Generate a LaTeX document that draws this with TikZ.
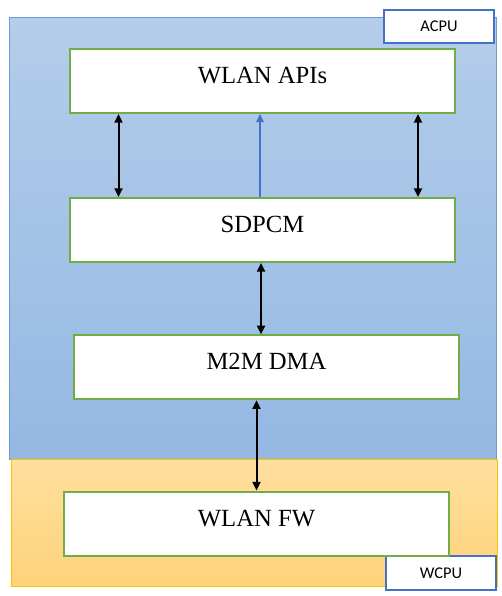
\documentclass[tikz,border=0pt]{standalone}
\usepackage{fontspec}
\setmainfont{Liberation Serif}
\newfontfamily\calib{Carlito}
\usetikzlibrary{arrows.meta}
\definecolor{bluetop}{RGB}{180,205,234}
\definecolor{bluebot}{RGB}{148,184,227}
\definecolor{blueedge}{RGB}{108,155,210}
\definecolor{orgtop}{RGB}{255,223,158}
\definecolor{orgbot}{RGB}{254,210,122}
\definecolor{orgedge}{RGB}{255,192,0}
\definecolor{grn}{RGB}{112,173,71}
\definecolor{cpuedge}{RGB}{68,114,196}
\definecolor{arrblue}{RGB}{68,114,196}
\begin{document}
\begin{tikzpicture}[x=0.75pt,y=-0.75pt,
  layerbox/.style={draw=grn,line width=1.5pt,fill=white,minimum width=288.75pt,minimum height=48pt,inner sep=0pt},
  layertext/.style={font=\fontsize{18.5pt}{20pt}\selectfont,anchor=base,inner sep=0pt},
  cpubox/.style={draw=cpuedge,line width=1.5pt,fill=white,minimum width=83pt,minimum height=25pt,inner sep=0pt,font=\calib\fontsize{12.3pt}{14pt}\selectfont},
  dbl/.style={{Triangle[length=6.5pt,width=6pt]}-{Triangle[length=6.5pt,width=6pt]},line width=1.5pt,black},
  single/.style={-{Triangle[length=6pt,width=5.5pt]},line width=1.1pt,arrblue}]
\useasboundingbox (0,0) rectangle (501,596);
\shadedraw[top color=bluetop,bottom color=bluebot,draw=blueedge,line width=0.75pt] (9.5,17) rectangle (496,459);
\shadedraw[top color=orgtop,bottom color=orgbot,draw=orgedge,line width=0.75pt] (11,459) rectangle (497.5,586);
\node[cpubox] (acpu) at (439,26.5) {ACPU};
\node[cpubox] (wcpu) at (441,573) {WCPU};
\node[layerbox] (apis) at (262.5,81) {};
\node[layerbox] (sdpcm) at (262.5,230) {};
\node[layerbox] (m2m) at (266.5,367.3) {};
\node[layerbox] (fw) at (256.5,523.5) {};
\node[layertext] (tapis) at ([yshift=-1.8pt]apis.center) {WLAN APIs};
\node[layertext] (tsdpcm) at ([yshift=-1.6pt]sdpcm.center) {SDPCM};
\node[layertext] (tm2m) at ([yshift=-1.5pt]m2m.center) {M2M DMA};
\node[layertext] (tfw) at ([yshift=-1.9pt]fw.center) {WLAN FW};
\draw[dbl] ([xshift=-108pt]apis.south) -- ([xshift=-108pt]sdpcm.north);
\draw[dbl] ([xshift=116.6pt]apis.south) -- ([xshift=116.6pt]sdpcm.north);
\draw[single] ([xshift=-1.9pt]sdpcm.north) -- ([xshift=-1.9pt]apis.south);
\coordinate (midtop) at ([xshift=-1.1pt]sdpcm.south);
\draw[dbl] (midtop) -- (midtop |- m2m.north);
\draw[dbl] (m2m.south -| fw.north) -- (fw.north);
\end{tikzpicture}
\end{document}
